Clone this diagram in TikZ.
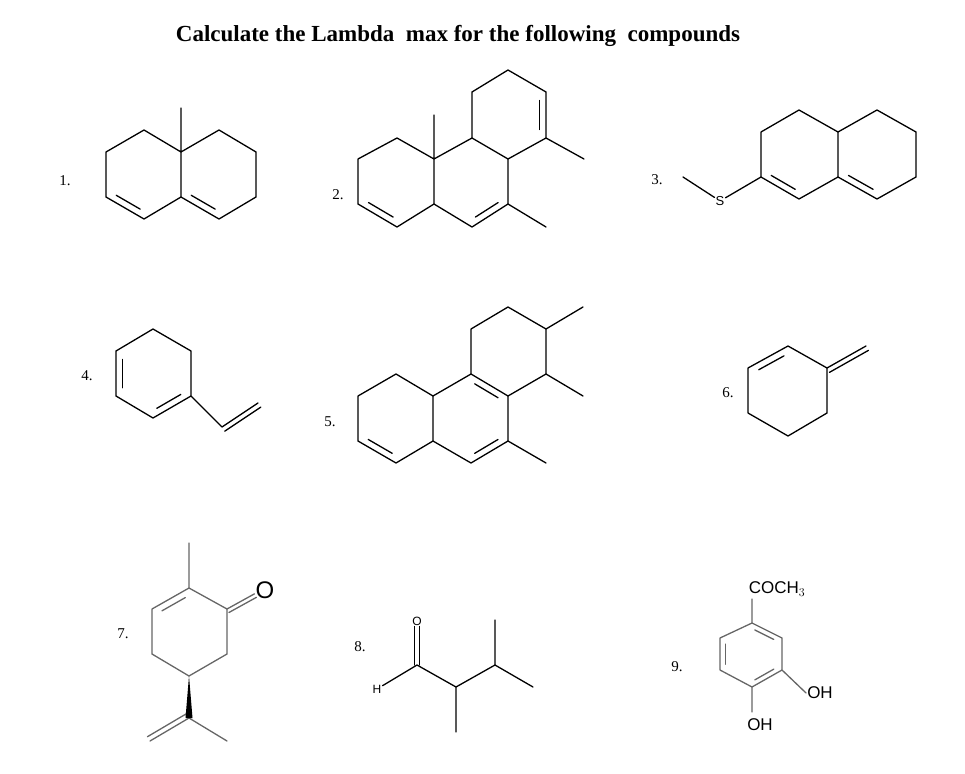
\documentclass[tikz,border=0pt]{standalone}
\usepackage{fontspec}
\setmainfont{Liberation Serif}
\setsansfont{Liberation Sans}
\usetikzlibrary{calc}
\tikzset{bond/.style={line width=1.3pt,black,line cap=round,line join=round},
gbond/.style={line width=1.3pt,black!60,line cap=round,line join=round},
num/.style={font=\fontsize{15}{15}\selectfont,inner sep=0},
atom/.style={font=\sffamily\fontsize{13}{13}\selectfont,inner sep=1pt}}
% inner ring double bond: #1,#2 ends, #3 ring centre
\newcommand{\innerdb}[4][bond]{\draw[#1] ($($(#2)!0.17!(#4)$)!0.12!($(#3)!0.17!(#4)$)$) -- ($($(#3)!0.17!(#4)$)!0.12!($(#2)!0.17!(#4)$)$);}
% parallel line at offset #4 (pt, sign chooses side)
\newcommand{\pardb}[4][bond]{\draw[#1] ($(#2)!#4!90:(#3)$) -- ($(#3)!#4!-90:(#2)$);}
\begin{document}
\begin{tikzpicture}[x=1pt,y=-1pt]
\useasboundingbox (0,0) rectangle (965,773);
\node[font=\bfseries\fontsize{23}{23}\selectfont] (title) at (458,36) {Calculate the Lambda\ \ max for the following\ \ compounds};
% labels
\node[num] (n1) at (65,181) {1.};
\node[num] (n2) at (338,195) {2.};
\node[num] (n3) at (657,180) {3.};
\node[num] (n4) at (87,376) {4.};
\node[num] (n5) at (330,422) {5.};
\node[num] (n6) at (728,393) {6.};
\node[num] (n7) at (123,634) {7.};
\node[num] (n8) at (360,647) {8.};
\node[num] (n9) at (677,667) {9.};
% ---- compound 1
\coordinate (a1) at (106,152); \coordinate (a2) at (144,130); \coordinate (a3) at (181,152);
\coordinate (a4) at (181,197); \coordinate (a5) at (144,219); \coordinate (a6) at (106,197);
\coordinate (a7) at (219,130); \coordinate (a8) at (256,152); \coordinate (a9) at (256,197);
\coordinate (a10) at (219,219); \coordinate (am) at (181,108);
\coordinate (ac1) at (144,174); \coordinate (ac2) at (219,174);
\draw[bond] (a1)--(a2)--(a3)--(a4)--(a5)--(a6)--cycle (a3)--(a7)--(a8)--(a9)--(a10)--(a4) (a3)--(am);
\innerdb{a6}{a5}{ac1} \innerdb{a4}{a10}{ac2}
% ---- compound 2
\coordinate (b1) at (358,159); \coordinate (b2) at (397,138); \coordinate (b3) at (434,159);
\coordinate (b4) at (434,204); \coordinate (b5) at (397,227); \coordinate (b6) at (358,204);
\coordinate (b7) at (472,138); \coordinate (b8) at (508,159); \coordinate (b9) at (508,204);
\coordinate (b10) at (472,227); \coordinate (b11) at (472,92); \coordinate (b12) at (508,70);
\coordinate (b13) at (546,92); \coordinate (b14) at (546,138);
\coordinate (bm1) at (434,115); \coordinate (bm2) at (584,159); \coordinate (bm3) at (546,227);
\coordinate (bc1) at (397,182); \coordinate (bc2) at (471,182); \coordinate (bc3) at (509,115);
\draw[bond] (b1)--(b2)--(b3)--(b4)--(b5)--(b6)--cycle (b3)--(b7)--(b8)--(b9)--(b10)--(b4)
 (b7)--(b11)--(b12)--(b13)--(b14)--(b8) (b3)--(bm1) (b14)--(bm2) (b9)--(bm3);
\innerdb{b6}{b5}{bc1} \innerdb{b10}{b9}{bc2} \innerdb{b13}{b14}{bc3}
% ---- compound 3
\coordinate (c1) at (761,132); \coordinate (c2) at (799,110); \coordinate (c3) at (838,132);
\coordinate (c4) at (838,177); \coordinate (c5) at (799,199); \coordinate (c6) at (761,177);
\coordinate (c7) at (877,110); \coordinate (c8) at (916,132); \coordinate (c9) at (916,177);
\coordinate (c10) at (877,199); \coordinate (cm) at (683,177);
\coordinate (cc1) at (799,155); \coordinate (cc2) at (877,155);
\node[atom] (S) at (720,201) {S};
\draw[bond] (c1)--(c2)--(c3)--(c4)--(c5)--(c6)--cycle (c3)--(c7)--(c8)--(c9)--(c10)--(c4)
 (cm)--(S) (S)--(c6);
\innerdb{c6}{c5}{cc1} \innerdb{c4}{c10}{cc2}
% ---- compound 4
\coordinate (d1) at (116,351); \coordinate (d2) at (153,329); \coordinate (d3) at (191,351);
\coordinate (d4) at (191,396); \coordinate (d5) at (153,418); \coordinate (d6) at (116,396);
\coordinate (d7) at (222,427); \coordinate (d8) at (258,403); \coordinate (dc) at (153,374);
\draw[bond] (d1)--(d2)--(d3)--(d4)--(d5)--(d6)--cycle (d4)--(d7)--(d8);
\innerdb{d1}{d6}{dc} \innerdb{d5}{d4}{dc}
\pardb{d7}{d8}{-5pt}
% ---- compound 5
\coordinate (e1) at (358,396); \coordinate (e2) at (396,374); \coordinate (e3) at (433,396);
\coordinate (e4) at (433,441); \coordinate (e5) at (396,463); \coordinate (e6) at (358,441);
\coordinate (e7) at (471,374); \coordinate (e8) at (508,396); \coordinate (e9) at (508,441);
\coordinate (e10) at (471,463); \coordinate (e11) at (471,329); \coordinate (e12) at (508,307);
\coordinate (e13) at (546,329); \coordinate (e14) at (546,374);
\coordinate (em1) at (583,307); \coordinate (em2) at (583,396); \coordinate (em3) at (546,463);
\coordinate (ec1) at (396,419); \coordinate (ec2) at (471,419); \coordinate (ec3) at (508,352);
\draw[bond] (e1)--(e2)--(e3)--(e4)--(e5)--(e6)--cycle (e3)--(e7)--(e8)--(e9)--(e10)--(e4)
 (e7)--(e11)--(e12)--(e13)--(e14)--(e8) (e13)--(em1) (e14)--(em2) (e9)--(em3);
\innerdb{e6}{e5}{ec1} \innerdb{e10}{e9}{ec2} \innerdb{e7}{e8}{ec2}
% ---- compound 6
\coordinate (f1) at (748,368); \coordinate (f2) at (788,346); \coordinate (f3) at (827,368);
\coordinate (f4) at (827,413); \coordinate (f5) at (788,436); \coordinate (f6) at (748,413);
\coordinate (f7) at (866,346); \coordinate (fc) at (788,391);
\draw[bond] (f1)--(f2)--(f3)--(f4)--(f5)--(f6)--cycle (f3)--(f7);
\innerdb{f1}{f2}{fc}
\pardb{f3}{f7}{-5pt}
% ---- compound 7
\coordinate (g1) at (189,588); \coordinate (g2) at (227,609); \coordinate (g3) at (227,654);
\coordinate (g4) at (189,676); \coordinate (g5) at (152,654); \coordinate (g6) at (152,609);
\coordinate (gm) at (189,543); \coordinate (g7) at (189,718); \coordinate (g8) at (227,741);
\coordinate (g9) at (150,741); \coordinate (gc) at (189,632);
\node[font=\sffamily\fontsize{24}{24}\selectfont,inner sep=1pt] (O7) at (265,590) {O};
\draw[gbond] (g1)--(g2)--(g3)--(g4)--(g5)--(g6)--cycle (g1)--(gm) (g7)--(g8) (g7)--(g9);
\draw[gbond] (g2)--(O7.200);
\draw[gbond] ($(g2)!4pt!-90:(O7.200)$)--($(O7.200)!4pt!90:(g2)$);
\innerdb[gbond]{g6}{g1}{gc}
\pardb[gbond]{g7}{g9}{-5pt}
\fill[black] (g4) -- ($(g7)+(-3.5,0)$) -- ($(g7)+(3.5,0)$) -- cycle;
% ---- compound 8
\node[atom,font=\sffamily\fontsize{12}{12}\selectfont] (O8) at (417,621) {O};
\node[atom,font=\sffamily\fontsize{12}{12}\selectfont] (H8) at (377,689) {H};
\coordinate (h1) at (417,665); \coordinate (h2) at (456,687); \coordinate (h3) at (456,732);
\coordinate (h4) at (495,665); \coordinate (h5) at (495,620); \coordinate (h6) at (533,687);
\draw[bond] (H8)--(h1)--(h2)--(h3) (h2)--(h4)--(h5) (h4)--(h6);
\draw[bond] ($(h1)+(-2.5,0)$)--($(O8.south)+(-2.5,0)$) ($(h1)+(2.5,0)$)--($(O8.south)+(2.5,0)$);
% ---- compound 9
\coordinate (k1) at (752,623); \coordinate (k2) at (782,638); \coordinate (k3) at (782,670);
\coordinate (k4) at (752,687); \coordinate (k5) at (720,670); \coordinate (k6) at (720,638);
\coordinate (kc) at (751,655);
\node[font=\sffamily\fontsize{17}{17}\selectfont,inner sep=1pt] (ac) at (777,589) {COCH$_3$};
\node[font=\sffamily\fontsize{17}{17}\selectfont,inner sep=1pt] (oh1) at (820,693) {OH};
\node[font=\sffamily\fontsize{17}{17}\selectfont,inner sep=1pt] (oh2) at (760,725) {OH};
\draw[gbond] (k1)--(k2)--(k3)--(k4)--(k5)--(k6)--cycle (k1)--(752,599) (k3)--(oh1.west) (k4)--(752,712);
\innerdb[gbond]{k1}{k2}{kc} \innerdb[gbond]{k6}{k5}{kc} \innerdb[gbond]{k3}{k4}{kc}
\end{tikzpicture}
\end{document}
